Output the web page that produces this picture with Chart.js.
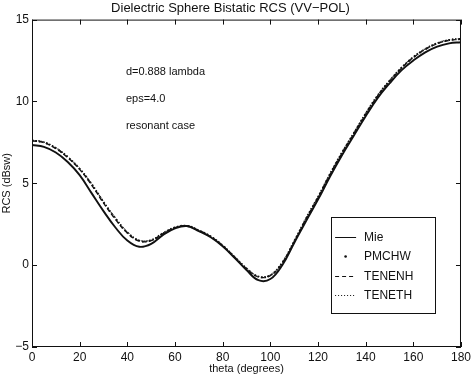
<!DOCTYPE html>
<html>
<head>
<meta charset="utf-8">
<script src="https://cdn.jsdelivr.net/npm/chart.js@4"></script>
<style>
  html, body { margin: 0; padding: 0; background: #fff; }
  #wrap { width: 474px; height: 379px; }
</style>
</head>
<body>
<div id="wrap"><canvas id="myChart" width="474" height="379"></canvas></div>
<script>
// bistatic angle (deg)
const theta = [0, 5, 10, 15, 20, 25, 30, 35, 40, 45, 50, 55, 60, 65, 70, 75, 80, 85, 90,
  95, 100, 105, 110, 115, 120, 125, 130, 135, 140, 145, 150, 155, 160, 165, 170, 175, 180];

// RCS in dBsw
const mie = [7.34, 7.22, 6.88, 6.3, 5.5, 4.4, 3.3, 2.3, 1.5, 1.12, 1.3, 1.85, 2.25, 2.39, 2.08,
  1.7, 1.15, 0.45, -0.3, -0.92, -0.85, 0.0, 1.35, 2.7, 4.0, 5.4, 6.7, 7.9, 9.1, 10.2, 11.1, 11.9,
  12.5, 13.0, 13.35, 13.55, 13.62];
const pmchw = [7.62, 7.5, 7.15, 6.6, 5.88, 4.95, 3.85, 2.85, 2.0, 1.5, 1.52, 1.95, 2.3, 2.4, 2.12,
  1.75, 1.2, 0.5, -0.2, -0.7, -0.62, 0.15, 1.45, 2.85, 4.15, 5.55, 6.85, 8.05, 9.25, 10.35,
  11.25, 12.05, 12.7, 13.2, 13.55, 13.75, 13.82];
const tenenh = [7.6, 7.48, 7.12, 6.57, 5.85, 4.9, 3.8, 2.8, 1.96, 1.47, 1.5, 1.93, 2.29, 2.4, 2.11,
  1.74, 1.19, 0.48, -0.22, -0.72, -0.64, 0.13, 1.43, 2.83, 4.13, 5.53, 6.83, 8.03, 9.23, 10.33,
  11.23, 12.03, 12.68, 13.18, 13.53, 13.73, 13.8];
const teneth = [7.64, 7.52, 7.17, 6.62, 5.9, 4.97, 3.88, 2.88, 2.03, 1.52, 1.54, 1.96, 2.31, 2.41, 2.13,
  1.76, 1.21, 0.51, -0.19, -0.68, -0.6, 0.17, 1.47, 2.87, 4.17, 5.57, 6.87, 8.07, 9.27, 10.37,
  11.27, 12.07, 12.72, 13.22, 13.57, 13.77, 13.84];

const xTicks = [0, 20, 40, 60, 80, 100, 120, 140, 160, 180];
const yTicks = [-5, 0, 5, 10, 15];
const notes = ['d=0.888 lambda', 'eps=4.0', 'resonant case'];
const seriesNames = ['Mie', 'PMCHW', 'TENENH', 'TENETH'];

const FONT = '"Liberation Sans", Arial, Helvetica, sans-serif';
const INK = '#111';

function pts(ys) {
  return theta.map((t, i) => ({ x: t, y: ys[i] }));
}

// matlab style frame: full box + inward ticks on all four sides + notes + legend
const matlabFrame = {
  id: 'matlabFrame',
  afterDatasetsDraw(chart) {
    const { ctx, chartArea: a, scales } = chart;
    const xs = scales.x, ys = scales.y;
    ctx.save();
    ctx.strokeStyle = INK;
    ctx.lineWidth = 1;
    ctx.strokeRect(a.left + 0.5, a.top + 0.5, a.right - a.left - 1, a.bottom - a.top - 1);
    const tl = 5;
    ctx.beginPath();
    xTicks.forEach((v) => {
      const px = Math.round(xs.getPixelForValue(v)) + 0.5;
      ctx.moveTo(px, a.bottom); ctx.lineTo(px, a.bottom - tl);
      ctx.moveTo(px, a.top); ctx.lineTo(px, a.top + tl);
    });
    yTicks.forEach((v) => {
      const py = Math.round(ys.getPixelForValue(v)) + 0.5;
      ctx.moveTo(a.left, py); ctx.lineTo(a.left + tl, py);
      ctx.moveTo(a.right, py); ctx.lineTo(a.right - tl, py);
    });
    ctx.stroke();

    // text notes
    ctx.fillStyle = INK;
    ctx.font = '11px ' + FONT;
    ctx.textBaseline = 'middle';
    ctx.textAlign = 'left';
    const nx = xs.getPixelForValue(39.4);
    [11.8, 10.15, 8.5].forEach((yv, i) => {
      ctx.fillText(notes[i], nx, ys.getPixelForValue(yv));
    });

    // legend box
    const bx0 = xs.getPixelForValue(125.5), bx1 = xs.getPixelForValue(169.1);
    const by0 = ys.getPixelForValue(2.94), by1 = ys.getPixelForValue(-2.94);
    ctx.fillStyle = '#fff';
    ctx.fillRect(bx0, by0, bx1 - bx0, by1 - by0);
    ctx.strokeStyle = INK;
    ctx.lineWidth = 1;
    ctx.strokeRect(Math.round(bx0) + 0.5, Math.round(by0) + 0.5, Math.round(bx1 - bx0), Math.round(by1 - by0));
    const rowY = [237, 256, 276, 295].map((p) => by0 + (p - 217));
    chart.data.datasets.forEach((ds, i) => {
      const y = Math.round(rowY[i]) + 0.5;
      const sx0 = bx0 + 4, sx1 = bx0 + 25;
      ctx.strokeStyle = INK;
      ctx.fillStyle = INK;
      if (ds.legendDot) {
        ctx.beginPath();
        ctx.arc((sx0 + sx1) / 2, y, 1.3, 0, Math.PI * 2);
        ctx.fill();
      } else {
        ctx.lineWidth = 1;
        ctx.setLineDash(ds.borderDash || []);
        ctx.beginPath();
        ctx.moveTo(sx0, y); ctx.lineTo(sx1, y);
        ctx.stroke();
        ctx.setLineDash([]);
      }
      ctx.font = '12px ' + FONT;
      ctx.fillText(ds.label, bx0 + 33, y);
    });
    ctx.restore();
  },
};

const line_defaults = {
  fill: false,
  pointRadius: 0,
  tension: 0.4,
  borderColor: INK,
};

new Chart(document.getElementById('myChart'), {
  type: 'line',
  data: {
    datasets: [
      { ...line_defaults, label: seriesNames[0], data: pts(mie), borderWidth: 1.9 },
      { ...line_defaults, label: seriesNames[1], data: pts(pmchw), borderWidth: 2, borderDash: [1.5, 2], legendDot: true },
      { ...line_defaults, label: seriesNames[2], data: pts(tenenh), borderWidth: 1.4, borderDash: [4, 3] },
      { ...line_defaults, label: seriesNames[3], data: pts(teneth), borderWidth: 1.2, borderDash: [1, 2] },
    ],
  },
  options: {
    responsive: false,
    animation: { duration: 0 },
    events: [],
    layout: { padding: { top: 0, right: 13, left: 0, bottom: 0 } },
    plugins: {
      legend: { display: false },
      tooltip: { enabled: false },
      title: {
        display: true,
        text: 'Dielectric Sphere Bistatic RCS (VV\u2212POL)',
        color: INK,
        font: { family: FONT, size: 13, weight: 'normal', lineHeight: 1.2 },
        padding: { top: 1, bottom: 3 },
      },
    },
    scales: {
      x: {
        type: 'linear',
        min: 0,
        max: 180,
        afterBuildTicks: (s) => { s.ticks = xTicks.map((v) => ({ value: v })); },
        afterFit: (s) => { s.height = 32; },
        grid: { display: false, drawTicks: false },
        border: { display: false },
        ticks: { color: INK, font: { family: FONT, size: 12 }, padding: 3, maxRotation: 0 },
        title: {
          display: true,
          text: 'theta (degrees)',
          color: INK,
          font: { family: FONT, size: 11 },
          padding: { top: 0, bottom: 3 },
        },
      },
      y: {
        type: 'linear',
        min: -5,
        max: 15,
        afterBuildTicks: (s) => { s.ticks = yTicks.map((v) => ({ value: v })); },
        afterFit: (s) => { s.width = 32; },
        grid: { display: false, drawTicks: false },
        border: { display: false },
        ticks: {
          color: INK,
          font: { family: FONT, size: 12 },
          padding: 3,
          callback: (v) => (v < 0 ? '\u2212' + Math.abs(v) : String(v)),
        },
        title: {
          display: true,
          text: 'RCS (dBsw)',
          color: INK,
          font: { family: FONT, size: 11 },
          padding: { top: 0, bottom: 0 },
        },
      },
    },
  },
  plugins: [matlabFrame],
});
</script>
</body>
</html>
